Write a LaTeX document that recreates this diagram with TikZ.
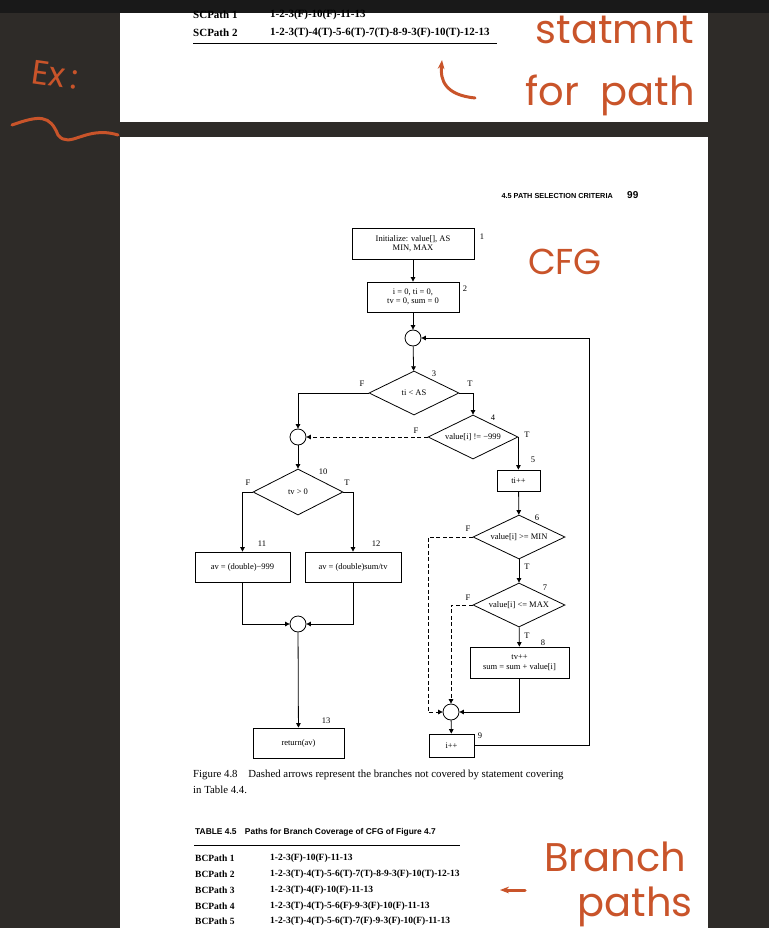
\documentclass[tikz,border=0pt]{standalone}
\usepackage{fontspec}
\setmainfont{Liberation Serif}
\newfontfamily\hand{Poppins}
\newfontfamily\sanshead{Liberation Sans}
\usetikzlibrary{arrows.meta,shapes.geometric}
\definecolor{bgdark}{HTML}{2E2B28}
\definecolor{ink}{HTML}{C9542A}
\begin{document}
\begin{tikzpicture}[x=1pt,y=-1pt,
  font=\fontsize{8.5}{9.5}\selectfont,
  ln/.style={line width=0.8pt},
  arr/.style={ln,-{Triangle[length=4.5pt,width=4.5pt]}},
  darr/.style={arr,dashed,dash pattern=on 4pt off 2.5pt},
  bx/.style={draw,ln,inner sep=0pt,align=center},
  cir/.style={draw,ln,circle,minimum size=16pt,inner sep=0pt},
  lab/.style={inner sep=0pt,font=\fontsize{8.5}{9.5}\selectfont},
  tb/.style={inner sep=0pt,anchor=west,font=\bfseries\fontsize{9.5}{10}\selectfont},
  hw/.style={ink,inner sep=0pt,font=\hand\fontsize{30}{30}\selectfont},
  pen/.style={ink,line width=3pt,line cap=round,line join=round}]
\useasboundingbox (0,0) rectangle (769,928);
\fill[bgdark] (0,0) rectangle (769,928);
\fill[black!90] (0,0) rectangle (769,13);
\fill[white] (120,13) rectangle (708,122);
\fill[white] (120,137) rectangle (708,928);
% top table remainder
\node[tb,font=\bfseries\fontsize{11}{12}\selectfont] (sc1) at (193,15) {SCPath 1};
\node[tb,font=\bfseries\fontsize{11}{12}\selectfont] (sc1p) at (270,15) {1-2-3(F)-10(F)-11-13};
\node[tb,font=\bfseries\fontsize{11}{12}\selectfont] (sc2) at (193,33) {SCPath 2};
\node[tb,font=\bfseries\fontsize{11}{12}\selectfont] (sc2p) at (270,33) {1-2-3(T)-4(T)-5-6(T)-7(T)-8-9-3(F)-10(T)-12-13};
\draw[line width=1.5pt] (193,43.5) -- (497,43.5);
% header
\node[lab,anchor=east,font=\sanshead\bfseries\fontsize{7.3}{8}\selectfont] (hd) at (613,196) {4.5 PATH SELECTION CRITERIA};
\node[lab,anchor=west,font=\sanshead\bfseries\fontsize{10}{12}\selectfont] (pg) at (627,195) {99};
% nodes
\node[bx,minimum width=122pt,minimum height=31pt] (n1) at (413,243.5) {Initialize: value[], AS\\MIN, MAX};
\node[bx,minimum width=92pt,minimum height=30pt] (n2) at (413,297) {i = 0, ti = 0,\\tv = 0, sum = 0};
\node[cir] (c1) at (413,338) {};
\node[draw,ln,diamond,aspect=2,minimum width=90pt,minimum height=44pt,inner sep=0pt] (d3) at (414,393) {ti {\textless} AS};
\node[cir] (c2) at (298,437) {};
\node[draw,ln,diamond,aspect=2,minimum width=90pt,minimum height=44pt,inner sep=0pt] (d4) at (473,437) {value[i] != \textminus999};
\node[bx,minimum width=43pt,minimum height=21pt] (n5) at (518.5,480.5) {ti++};
\node[draw,ln,diamond,aspect=2,minimum width=92pt,minimum height=44pt,inner sep=0pt] (d6) at (519,537) {value[i] {\textgreater}= MIN};
\node[draw,ln,diamond,aspect=2,minimum width=92pt,minimum height=44pt,inner sep=0pt] (d7) at (519,605) {value[i] {\textless}= MAX};
\node[bx,minimum width=99pt,minimum height=31pt] (n8) at (519.5,662.5) {tv++\\sum = sum + value[i]};
\node[cir] (c4) at (451,712) {};
\node[bx,minimum width=45pt,minimum height=23pt] (n9) at (451.5,745.5) {i++};
\node[draw,ln,diamond,aspect=2,minimum width=90pt,minimum height=46pt,inner sep=0pt] (d10) at (298,492) {tv {\textgreater} 0};
\node[bx,minimum width=95pt,minimum height=30pt] (n11) at (242.5,567) {av = (double)\textminus999};
\node[bx,minimum width=96pt,minimum height=30pt] (n12) at (353,567) {av = (double)sum/tv};
\node[cir] (c3) at (298,624) {};
\node[bx,minimum width=91pt,minimum height=30pt] (n13) at (298.5,743) {return(av)};
% numbers
\node[lab] (l1) at (482,237) {1};
\node[lab] (l2) at (465,289) {2};
\node[lab] (l3) at (434,374) {3};
\node[lab] (l4) at (493,418) {4};
\node[lab] (l5) at (533,460) {5};
\node[lab] (l6) at (537,518) {6};
\node[lab] (l7) at (545,588) {7};
\node[lab] (l8) at (543,643) {8};
\node[lab] (l9) at (480,736) {9};
\node[lab] (l10) at (323,472) {10};
\node[lab] (l11) at (262,544) {11};
\node[lab] (l12) at (376,544) {12};
\node[lab] (l13) at (326,721) {13};
% T/F
\node[lab] (f3) at (362,384) {F};
\node[lab] (t3) at (470,384) {T};
\node[lab] (f4) at (416,431) {F};
\node[lab] (t4) at (527,435) {T};
\node[lab] (f6) at (468,529) {F};
\node[lab] (t6) at (527,567) {T};
\node[lab] (f7) at (468,598) {F};
\node[lab] (t7) at (527,636) {T};
\node[lab] (f10) at (248,483) {F};
\node[lab] (t10) at (347,483) {T};
% edges
\draw[arr] (n1) -- (n2);
\draw[arr] (n2) -- (c1);
\draw[arr] (c1) -- (d3);
\draw[arr] (d3.west) -| (c2);
\draw[arr] (d3.east) -| (d4.north);
\draw[darr] (d4.west) -- (c2);
\draw[arr] (d4.east) -- (d4.east |- n5.north);
\draw[arr] (n5) -- (d6);
\draw[arr] (d6) -- (d7);
\draw[arr] (d7) -- (n8);
\draw[darr] (d6.west) -- (428,537) -- (428,712) -- (c4.west);
\draw[darr] (d7.west) -- (451,605) -- (c4.north);
\draw[arr] (n8.south) |- (c4.east);
\draw[arr] (c4) -- (n9);
\draw[arr] (n9.east) -- (589,745.5) -- (589,338) -- (c1.east);
\draw[arr] (c2) -- (d10);
\draw[arr] (d10.west) -| (n11.north);
\draw[arr] (d10.east) -| (n12.north);
\draw[arr] (n11.south) |- (c3.west);
\draw[arr] (n12.south) |- (c3.east);
\draw[arr] (c3) -- (n13);
% caption
\node[lab,anchor=west,font=\fontsize{10.8}{12}\selectfont] (cap1) at (193,775) {Figure 4.8\quad Dashed arrows represent the branches not covered by statement covering};
\node[lab,anchor=west,font=\fontsize{10.8}{12}\selectfont] (cap2) at (193,790) {in Table 4.4.};
% table
\node[lab,anchor=west,font=\sanshead\bfseries\fontsize{8.4}{10}\selectfont] (tt) at (195,832) {TABLE 4.5\quad Paths for Branch Coverage of CFG of Figure 4.7};
\draw[line width=0.8pt] (194,845) -- (460,845);
\foreach \y/\a/\b in {858/1/{1-2-3(F)-10(F)-11-13},874/2/{1-2-3(T)-4(T)-5-6(T)-7(T)-8-9-3(F)-10(T)-12-13},890/3/{1-2-3(T)-4(F)-10(F)-11-13},906/4/{1-2-3(T)-4(T)-5-6(F)-9-3(F)-10(F)-11-13},921/5/{1-2-3(T)-4(T)-5-6(T)-7(F)-9-3(F)-10(F)-11-13}}{
  \node[tb] at (195,\y) {BCPath \a};
  \node[tb] at (270,\y) {\b};
}
% handwriting
\node[hw,rotate=-8,font=\hand\fontsize{34}{34}\selectfont] (ex) at (55,75) {Ex\,:};
\draw[pen] (12,125) .. controls (40,115) and (50,115) .. (58,135) .. controls (70,150) and (85,125) .. (118,135);
\node[hw,font=\hand\fontsize{40}{40}\selectfont] (st) at (615,30) {statmnt};
\node[hw,font=\hand\fontsize{40}{40}\selectfont] (fp) at (610,95) {for\ \ path};
\draw[pen,-{Stealth[length=9pt]}] (475,98) .. controls (445,95) and (440,80) .. (442,60);
\node[hw,font=\hand\fontsize{36}{36}\selectfont] (cfg) at (565,262) {CFG};
\node[hw,font=\hand\fontsize{40}{40}\selectfont] (br) at (615,857) {Branch};
\node[hw,font=\hand\fontsize{40}{40}\selectfont] (pt) at (635,907) {paths};
\draw[pen,-{Stealth[length=9pt]}] (525,890) -- (500,890);
\end{tikzpicture}
\end{document}
